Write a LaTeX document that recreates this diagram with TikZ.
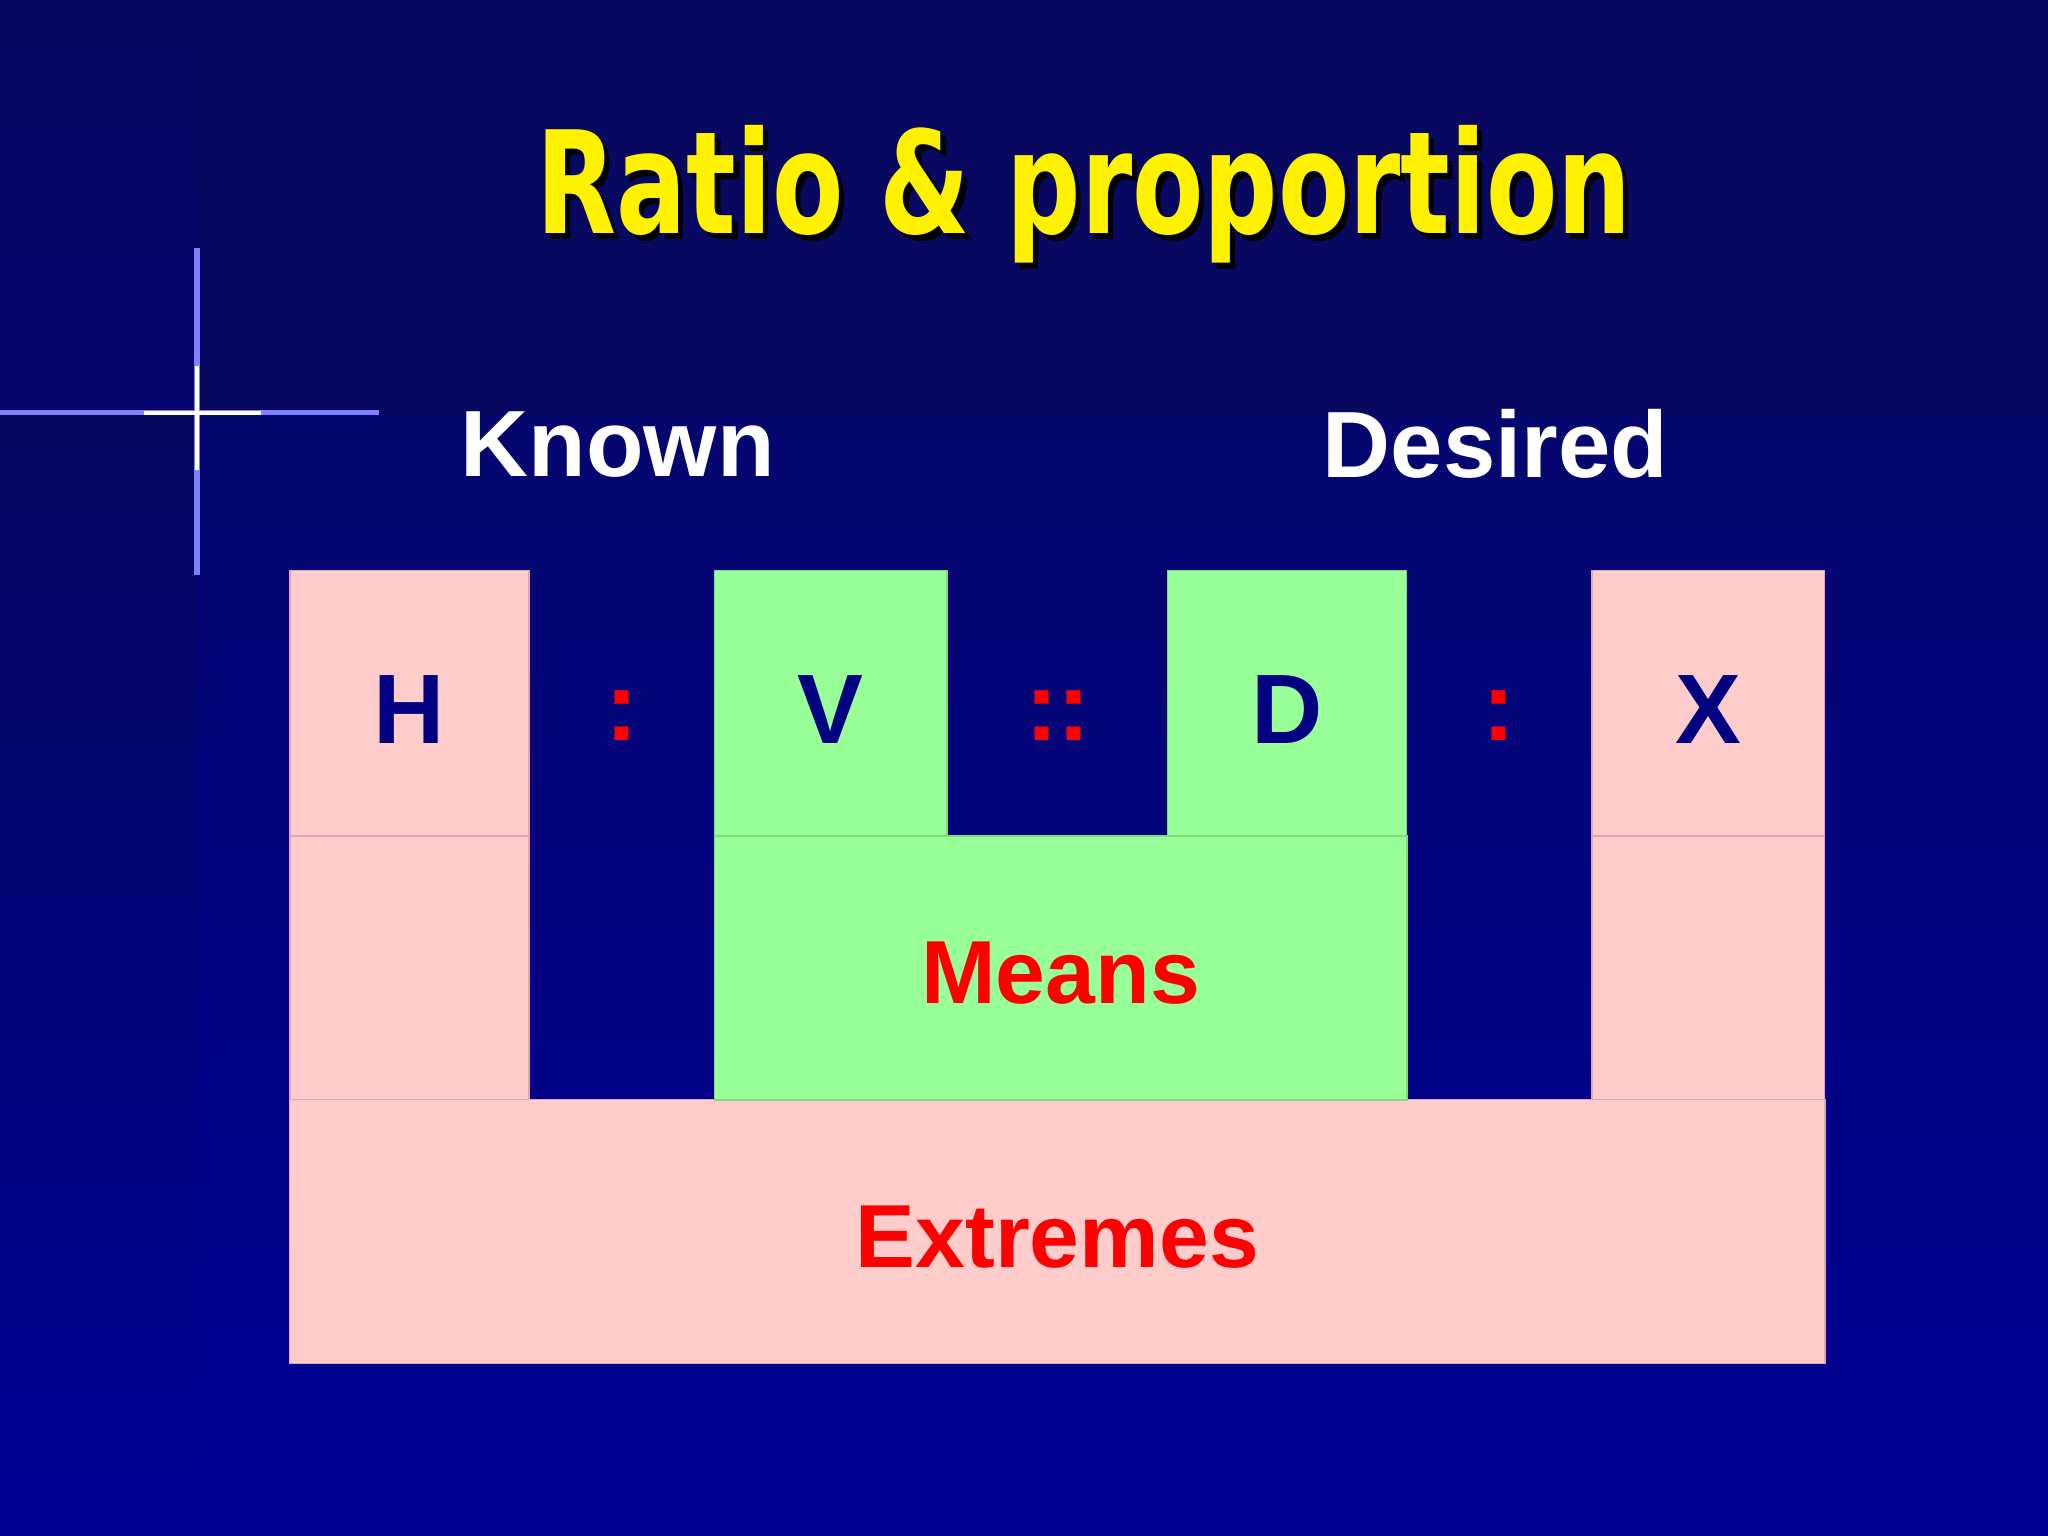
\documentclass[tikz,border=0pt]{standalone}
\usepackage{fontspec}
\setmainfont{Liberation Sans}
\newfontfamily\titlefont{DejaVu Sans}
\usetikzlibrary{positioning}
\definecolor{navy}{RGB}{8,8,96}
\definecolor{deepblue}{RGB}{0,0,150}
\definecolor{pinkbox}{RGB}{255,204,204}
\definecolor{greenbox}{RGB}{153,255,153}
\definecolor{lettercol}{RGB}{0,0,128}
\tikzset{
    cell/.style={rectangle, inner sep=0pt, draw=pinkbox!80!violet, line width=0.3pt},
    extreme/.style={cell, fill=pinkbox},
    mean/.style={cell, fill=greenbox, draw=greenbox!85!black},
    letter/.style={font=\bfseries\fontsize{21.5}{26}\selectfont, text=lettercol},
    sep/.style={font=\bfseries\fontsize{21.5}{26}\selectfont, text=red},
    heading/.style={font=\bfseries\fontsize{20.5}{24}\selectfont, text=white},
    label/.style={font=\bfseries\fontsize{19.5}{24}\selectfont, text=red},
    titletext/.style={font=\titlefont\bfseries\fontsize{31}{36}\selectfont, xscale=0.73}
}
\begin{document}
\begin{tikzpicture}[x=0.01cm, y=-0.01cm]
    % Background
    \useasboundingbox (0,0) rectangle (1568,1176);
    \shade[top color=navy, bottom color=deepblue] (0,0) rectangle (1568,1176);
    \fill[navy] (150,0) rectangle (1568,318);
    \shade[top color=navy, bottom color=deepblue] (0,318) rectangle (150,1176);
    \draw[blue!50!white, line width=1.2pt] (0,316) -- (290,316);
    \draw[blue!50!white, line width=1.2pt] (151,190) -- (151,440);
    \draw[white, line width=0.8pt] (110,316) -- (200,316);
    \draw[white, line width=0.8pt] (151,280) -- (151,360);

    % Title
    \node[titletext, text=black] at (834,153) {Ratio \& proportion};
    \node[titletext, text=yellow] (title) at (830,149) {Ratio \& proportion};

    % Headings
    \node[heading] (known) at (473,340) {Known};
    \node[heading] (desired) at (1145,340) {Desired};

    % Boxes
    \node[extreme, minimum width=1.83cm, minimum height=2.03cm] (hbox) at (313.5,538.5) {};
    \node[extreme, minimum width=1.83cm, minimum height=2.02cm] (hlow) at (313.5,741) {};
    \node[extreme, minimum width=1.78cm, minimum height=2.03cm] (xbox) at (1308,538.5) {};
    \node[extreme, minimum width=1.78cm, minimum height=2.02cm] (xlow) at (1308,741) {};
    \node[extreme, minimum width=11.75cm, minimum height=2.02cm] (extremes) at (809.5,943) {};
    \node[mean, minimum width=1.78cm, minimum height=2.03cm] (vbox) at (636,538.5) {};
    \node[mean, minimum width=1.83cm, minimum height=2.03cm] (dbox) at (985.5,538.5) {};
    \node[mean, minimum width=5.30cm, minimum height=2.02cm] (means) at (812,741) {};

    % Letters
    \node[letter] at ([yshift=-0.05cm]hbox) {H};
    \node[letter] at ([yshift=-0.05cm]vbox) {V};
    \node[letter] at ([yshift=-0.05cm]dbox) {D};
    \node[letter] at ([yshift=-0.05cm]xbox) {X};
    \node[sep] (c1) at (476,548) {:};
    \node[sep] (c2) at (810,548) {::};
    \node[sep] (c3) at (1148,548) {:};

    % Labels
    \node[label] at ([yshift=-0.04cm]means) {Means};
    \node[label] at ([yshift=-0.04cm]extremes) {Extremes};
\end{tikzpicture}
\end{document}
